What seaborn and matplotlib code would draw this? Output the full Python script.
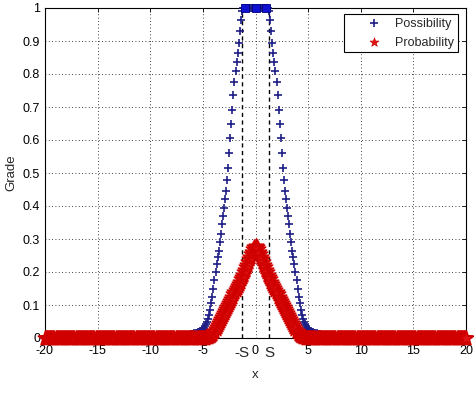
import numpy as np
import pandas as pd
import matplotlib
matplotlib.use("Agg")
import matplotlib.pyplot as plt
import seaborn as sns

# Grade values, x = -7.0 .. 7.0 in steps of 0.1
core_x = np.round(np.arange(-70, 71) / 10, 1)

poss_grade = [
    0.002, 0.003, 0.004, 0.005, 0.006, 0.007, 0.008, 0.009, 0.010, 0.011,  # -7.0 .. -6.1
    0.012, 0.013, 0.014, 0.015, 0.016, 0.017, 0.018, 0.020, 0.022, 0.024,  # -6.0 .. -5.1
    0.027, 0.031, 0.036, 0.042, 0.049, 0.058, 0.070, 0.085, 0.105, 0.125,  # -5.0 .. -4.1
    0.150, 0.175, 0.200, 0.225, 0.245, 0.265, 0.290, 0.315, 0.345, 0.370,  # -4.0 .. -3.1
    0.395, 0.420, 0.445, 0.480, 0.515, 0.560, 0.605, 0.650, 0.690, 0.735,  # -3.0 .. -2.1
    0.775, 0.810, 0.835, 0.865, 0.895, 0.930, 0.965, 0.990,                # -2.0 .. -1.3
    1.0, 1.0, 1.0, 1.0, 1.0, 1.0, 1.0, 1.0, 1.0, 1.0, 1.0, 1.0,             # -1.2 .. -0.1
    1.0,                                                                   # 0.0
    1.0, 1.0, 1.0, 1.0, 1.0, 1.0, 1.0, 1.0, 1.0, 1.0, 1.0, 1.0,             # 0.1 .. 1.2
    0.990, 0.965, 0.930, 0.895, 0.865, 0.835, 0.810, 0.775,                # 1.3 .. 2.0
    0.735, 0.690, 0.650, 0.605, 0.560, 0.515, 0.480, 0.445, 0.420, 0.395,  # 2.1 .. 3.0
    0.370, 0.345, 0.315, 0.290, 0.265, 0.245, 0.225, 0.200, 0.175, 0.150,  # 3.1 .. 4.0
    0.125, 0.105, 0.085, 0.070, 0.058, 0.049, 0.042, 0.036, 0.031, 0.027,  # 4.1 .. 5.0
    0.024, 0.022, 0.020, 0.018, 0.017, 0.016, 0.015, 0.014, 0.013, 0.012,  # 5.1 .. 6.0
    0.011, 0.010, 0.009, 0.008, 0.007, 0.006, 0.005, 0.004, 0.003, 0.002,  # 6.1 .. 7.0
]

prob_grade = [
    0, 0, 0, 0, 0, 0, 0, 0, 0, 0,                                          # -7.0 .. -6.1
    0, 0, 0, 0, 0, 0, 0, 0, 0, 0,                                          # -6.0 .. -5.1
    0.000, 0.001, 0.001, 0.002, 0.003, 0.004, 0.005, 0.007, 0.010, 0.013,  # -5.0 .. -4.1
    0.017, 0.022, 0.027, 0.033, 0.039, 0.045, 0.051, 0.057, 0.063, 0.070,  # -4.0 .. -3.1
    0.076, 0.082, 0.088, 0.094, 0.100, 0.106, 0.112, 0.119, 0.125, 0.132,  # -3.0 .. -2.1
    0.138, 0.145, 0.151, 0.158, 0.164, 0.171, 0.178, 0.185, 0.192, 0.199,  # -2.0 .. -1.1
    0.206, 0.214, 0.222, 0.230, 0.238, 0.246, 0.254, 0.262, 0.270, 0.276,  # -1.0 .. -0.1
    0.280,                                                                 # 0.0
    0.276, 0.270, 0.262, 0.254, 0.246, 0.238, 0.230, 0.222, 0.214, 0.206,  # 0.1 .. 1.0
    0.199, 0.192, 0.185, 0.178, 0.171, 0.164, 0.158, 0.151, 0.145, 0.138,  # 1.1 .. 2.0
    0.132, 0.125, 0.119, 0.112, 0.106, 0.100, 0.094, 0.088, 0.082, 0.076,  # 2.1 .. 3.0
    0.070, 0.063, 0.057, 0.051, 0.045, 0.039, 0.033, 0.027, 0.022, 0.017,  # 3.1 .. 4.0
    0.013, 0.010, 0.007, 0.005, 0.004, 0.003, 0.002, 0.001, 0.001, 0.000,  # 4.1 .. 5.0
    0, 0, 0, 0, 0, 0, 0, 0, 0, 0,                                          # 5.1 .. 6.0
    0, 0, 0, 0, 0, 0, 0, 0, 0, 0,                                          # 6.1 .. 7.0
]

# outside |x| > 7 both curves sit on zero
left_tail_x = np.round(np.arange(-200, -70) / 10, 1)
right_tail_x = np.round(np.arange(71, 201) / 10, 1)
tail_grade = 0.0

# the three square markers on the flat top, and the support limit S
peak_x = [-1.0, 0.0, 1.0]
peak_grade = [1.0, 1.0, 1.0]
S = 1.28

x_all = np.concatenate([left_tail_x, core_x, right_tail_x])
n_tail = len(left_tail_x)
df = pd.DataFrame({
    "x": x_all,
    "Possibility": [tail_grade] * n_tail + poss_grade + [tail_grade] * n_tail,
    "Probability": [tail_grade] * n_tail + prob_grade + [tail_grade] * n_tail,
})

sns.set_style("white")
plt.rcParams["font.family"] = ["Liberation Sans", "DejaVu Sans"]
plt.rcParams["axes.unicode_minus"] = False

fig = plt.figure(figsize=(4.74, 3.98), dpi=100)
ax = fig.add_axes([45 / 474, 1 - 338 / 398, 421 / 474, 330 / 398])

sns.scatterplot(data=df, x="x", y="Possibility", marker="+", s=30,
                color="#1e1e86", linewidth=1.2, label="Possibility",
                ax=ax, clip_on=False, zorder=3)
sns.scatterplot(data=df, x="x", y="Probability", marker="*", s=120,
                color="#e01515", edgecolor="#d00000", linewidth=1.1,
                label="Probability", ax=ax, clip_on=False, zorder=4)
sns.scatterplot(x=peak_x, y=peak_grade, marker="s", s=36, color="#1010d0",
                edgecolor="#000080", linewidth=0.6, ax=ax, clip_on=False,
                zorder=5, legend=False)

# dashed limits at -S and S
ax.vlines([-S, S], 0, 1, colors="k", linestyles=(0, (3, 2.5)), linewidth=1.0, zorder=2)

ax.set_xlim(-20, 20)
ax.set_ylim(0, 1)
ax.set_xticks([-20, -15, -10, -5, 0, 5, 10, 15, 20])
ax.set_yticks(np.round(np.arange(0, 11) / 10, 1))
ax.set_yticklabels([f"{v:g}" for v in np.round(np.arange(0, 11) / 10, 1)])
ax.set_xticks([-S, S], labels=["-S", "S"], minor=True)

ax.grid(True, which="major", linestyle=(0, (1, 3)), color="k", linewidth=0.6)
ax.tick_params(which="major", direction="in", top=True, right=True, length=3,
               width=0.6, labelsize=9, colors="k")
ax.tick_params(axis="x", which="major", pad=5)
ax.tick_params(axis="y", which="major", pad=3.5)
ax.tick_params(axis="x", which="minor", length=0, labelsize=11, pad=6)
for sp in ax.spines.values():
    sp.set_color("k")
    sp.set_linewidth(0.8)

ax.set_xlabel("x", fontsize=9.5)
ax.set_ylabel("Grade", fontsize=9.5)
ax.xaxis.set_label_coords(0.5, -(369 - 338) / 330)
ax.yaxis.set_label_coords((17 - 45) / 421, 0.5)

leg = ax.legend(loc="upper right", bbox_to_anchor=((458 - 45) / 421, (338 - 14) / 330),
                borderaxespad=0, fancybox=False, framealpha=1, edgecolor="k",
                fontsize=9, handlelength=4.2, handletextpad=-0.4, borderpad=0.3,
                labelspacing=0.55, scatterpoints=1)
leg.get_frame().set_linewidth(0.8)
leg.legend_handles[1].set_sizes([45])
leg.legend_handles[1].set_linewidth(0.5)

fig.savefig("out.png", dpi=100)
